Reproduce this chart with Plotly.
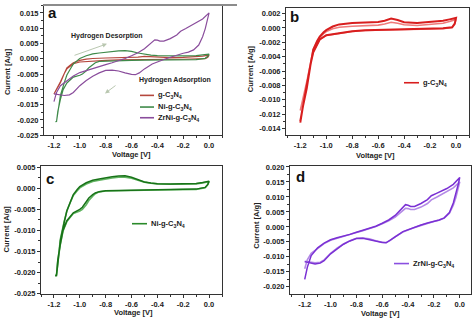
import plotly.graph_objects as go

# ---------------- data (current in mA/g, converted to A/g below) ----------------
# g-C3N4
gcn_v_fwd = [-1.2, -1.18, -1.15, -1.12, -1.1, -1.07, -1.05, -1.02, -1.0, -0.95, -0.9, -0.8,
             -0.7, -0.6, -0.55, -0.5, -0.45, -0.4, -0.3, -0.2, -0.1, -0.05, 0.0]
gcn_i_fwd_1 = [-13.0, -11.0, -8.0, -5.0, -3.0, -1.8, -1.2, -0.6, -0.3, 0.2, 0.5, 0.7,
               0.75, 0.85, 1.0, 1.3, 1.1, 0.8, 0.7, 0.8, 1.0, 1.2, 1.4]
gcn_i_fwd_2 = [-11.5, -10.0, -7.5, -4.8, -3.0, -1.9, -1.3, -0.8, -0.5, -0.1, 0.1, 0.25,
               0.3, 0.4, 0.55, 0.8, 0.65, 0.45, 0.35, 0.45, 0.65, 0.9, 1.2]
gcn_v_rev = [0.0, -0.01, -0.03, -0.1, -0.2, -0.3, -0.4, -0.5, -0.6, -0.7, -0.8, -0.9,
             -0.95, -1.0, -1.05, -1.1, -1.12, -1.15, -1.18, -1.2]
gcn_i_rev_1 = [1.4, 0.6, 0.1, -0.05, -0.1, -0.1, -0.1, -0.15, -0.2, -0.3, -0.45, -0.7,
               -0.85, -1.0, -1.6, -3.4, -5.0, -8.4, -11.0, -13.2]
gcn_i_rev_2 = [1.2, 0.5, 0.05, -0.1, -0.15, -0.15, -0.15, -0.2, -0.25, -0.35, -0.5, -0.75,
               -0.9, -1.05, -1.6, -3.3, -4.8, -7.8, -10.0, -11.5]

# Ni-g-C3N4
ni_v_fwd = [-1.18, -1.17, -1.15, -1.12, -1.1, -1.07, -1.05, -1.02, -1.0, -0.95, -0.9, -0.85,
            -0.8, -0.75, -0.7, -0.65, -0.6, -0.55, -0.5, -0.45, -0.4, -0.3, -0.2, -0.1, -0.05, 0.0]
ni_i_fwd_1 = [-20.7, -18.0, -12.4, -8.0, -5.4, -3.0, -1.5, -0.3, 0.4, 1.3, 1.9, 2.2,
              2.5, 2.75, 2.9, 2.95, 2.6, 2.0, 1.5, 1.25, 1.1, 1.0, 1.0, 1.15, 1.35, 1.7]
ni_i_fwd_2 = [-20.5, -17.5, -12.0, -7.8, -5.3, -3.1, -1.7, -0.6, 0.1, 1.0, 1.6, 1.9,
              2.2, 2.45, 2.6, 2.65, 2.4, 1.9, 1.45, 1.2, 1.05, 0.95, 0.95, 1.05, 1.25, 1.55]
ni_v_rev = [0.0, -0.01, -0.03, -0.1, -0.2, -0.3, -0.4, -0.5, -0.6, -0.7, -0.8, -0.85,
            -0.88, -0.9, -0.93, -0.95, -0.98, -1.0, -1.05, -1.1, -1.13, -1.15, -1.17, -1.18, -1.19]
ni_i_rev_1 = [1.7, 0.9, 0.2, -0.2, -0.3, -0.3, -0.35, -0.4, -0.45, -0.5, -0.6, -0.8,
              -1.1, -1.5, -2.3, -3.2, -4.5, -5.0, -5.8, -7.7, -10.0, -13.1, -17.0, -20.7, -20.8]
ni_i_rev_2 = [1.55, 0.8, 0.15, -0.25, -0.35, -0.35, -0.4, -0.45, -0.5, -0.55, -0.65, -0.85,
              -1.3, -1.9, -2.9, -3.9, -5.0, -5.4, -6.0, -7.9, -10.2, -13.3, -17.2, -20.5, -20.6]

# ZrNi-g-C3N4
zr_v_fwd = [-1.2, -1.18, -1.15, -1.1, -1.05, -1.0, -0.95, -0.9, -0.85, -0.8, -0.75, -0.7,
            -0.65, -0.6, -0.55, -0.5, -0.47, -0.44, -0.42, -0.4, -0.38, -0.35, -0.3, -0.25,
            -0.22, -0.18, -0.15, -0.1, -0.05, 0.0]
zr_i_fwd_1 = [-17.5, -13.5, -9.6, -7.0, -5.4, -4.3, -3.6, -3.1, -2.5, -1.8, -1.2, -0.6,
              0.2, 1.2, 2.3, 3.8, 5.2, 6.7, 7.4, 7.2, 6.8, 6.8, 7.8, 9.1,
              10.4, 11.2, 11.8, 12.8, 14.2, 16.5]
zr_i_fwd_2 = [-14.0, -11.0, -8.8, -7.2, -5.6, -4.5, -3.8, -3.2, -2.6, -1.9, -1.3, -0.7,
              0.1, 1.0, 2.0, 3.3, 4.5, 5.7, 6.2, 6.1, 5.8, 5.8, 6.6, 7.8,
              9.0, 9.9, 10.6, 11.7, 13.0, 15.0]
zr_v_rev = [0.0, -0.01, -0.03, -0.05, -0.08, -0.12, -0.16, -0.2, -0.25, -0.3, -0.36, -0.44,
            -0.5, -0.54, -0.57, -0.6, -0.65, -0.7, -0.75, -0.8, -0.85, -0.9, -0.95, -1.0,
            -1.05, -1.08, -1.12, -1.15, -1.18, -1.2]
zr_i_rev_1 = [16.5, 14.5, 11.0, 8.0, 4.8, 3.0, 2.3, 1.9, 1.3, 0.6, -0.3, -1.6,
              -3.3, -4.6, -5.3, -5.2, -4.7, -4.1, -3.8, -3.9, -4.7, -5.8, -7.3, -9.0,
              -11.3, -12.1, -12.4, -12.1, -11.7, -11.6]
zr_i_rev_2 = [15.0, 13.0, 9.8, 7.2, 4.5, 2.9, 2.2, 1.8, 1.2, 0.5, -0.4, -1.7,
              -3.3, -4.6, -5.2, -5.1, -4.6, -4.0, -3.7, -3.8, -4.6, -5.7, -7.1, -8.8,
              -11.0, -11.8, -12.0, -11.8, -11.6, -11.5]

x_ticks = [-1.2, -1.0, -0.8, -0.6, -0.4, -0.2, 0.0]
ya_ticks = [-0.025, -0.020, -0.015, -0.010, -0.005, 0.000, 0.005, 0.010, 0.015]
yb_ticks = [-0.014, -0.012, -0.010, -0.008, -0.006, -0.004, -0.002, 0.000, 0.002]
yc_ticks = [-0.025, -0.020, -0.015, -0.010, -0.005, 0.000, 0.005]
yd_ticks = [-0.020, -0.015, -0.010, -0.005, 0.000, 0.005, 0.010, 0.015, 0.020]

W, H = 474, 323
FONT = "Liberation Sans"


def loop(v_fwd, i_fwd, v_rev, i_rev):
    """One CV cycle: forward sweep followed by the reverse sweep, current in A/g."""
    v = list(v_fwd) + list(v_rev)
    i = [c / 1000.0 for c in list(i_fwd) + list(i_rev)]
    return v, i


def px(x):
    return x / W


def py(y):
    return 1 - y / H


fig = go.Figure()


def add_cycle(ax, cyc, color, width):
    v, i = loop(*cyc)
    fig.add_trace(go.Scatter(x=v, y=i, mode="lines", xaxis=f"x{ax}", yaxis=f"y{ax}",
                             line=dict(color=color, width=width, shape="linear"),
                             showlegend=False, hoverinfo="skip"))


gcn_c1 = (gcn_v_fwd, gcn_i_fwd_1, gcn_v_rev, gcn_i_rev_1)
gcn_c2 = (gcn_v_fwd, gcn_i_fwd_2, gcn_v_rev, gcn_i_rev_2)
ni_c1 = (ni_v_fwd, ni_i_fwd_1, ni_v_rev, ni_i_rev_1)
ni_c2 = (ni_v_fwd, ni_i_fwd_2, ni_v_rev, ni_i_rev_2)
zr_c1 = (zr_v_fwd, zr_i_fwd_1, zr_v_rev, zr_i_rev_1)
zr_c2 = (zr_v_fwd, zr_i_fwd_2, zr_v_rev, zr_i_rev_2)

# panel a: comparison
A_RED, A_GRN, A_PUR = "#b5473d", "#3f8a4a", "#8a4d9c"
add_cycle("", gcn_c2, A_RED, 1.2)
add_cycle("", ni_c2, A_GRN, 1.2)
add_cycle("", zr_c2, A_PUR, 1.2)
# panel b
add_cycle("2", gcn_c2, "#ef7a7a", 1.6)
add_cycle("2", gcn_c1, "#d81e1e", 2.0)
# panel c
add_cycle("3", ni_c2, "#62b562", 1.6)
add_cycle("3", ni_c1, "#187318", 1.5)
# panel d
add_cycle("4", zr_c2, "#b48ae6", 1.6)
add_cycle("4", zr_c1, "#7a30d4", 1.5)

tickfont = dict(family=FONT, size=7.5, color="#222", weight="bold")
axis_common = dict(showline=True, mirror=True, linecolor="#333", linewidth=1,
                   ticks="outside", ticklen=3, tickwidth=1, tickcolor="#333",
                   showgrid=False, zeroline=False, tickfont=tickfont)


def xaxis(domain, rng, anchor):
    return dict(axis_common, domain=domain, range=rng, anchor=anchor,
                tickmode="array", tickvals=x_ticks, ticktext=[f"{t:.1f}" for t in x_ticks],
                minor=dict(tickmode="linear", tick0=-1.3, dtick=0.1, ticklen=2,
                           tickcolor="#333", showgrid=False))


def yaxis(domain, rng, ticks, step, anchor):
    return dict(axis_common, domain=domain, range=rng, anchor=anchor,
                tickmode="array", tickvals=ticks, ticktext=[f"{t:.3f}" for t in ticks],
                minor=dict(tickmode="linear", tick0=ticks[0], dtick=step / 2, ticklen=2,
                           tickcolor="#333", showgrid=False))


top_dom = [py(135), py(1)]
top_dom_b = [py(135), py(4)]
bot_dom = [py(298), py(167)]

fig.update_layout(
    width=W, height=H, margin=dict(l=0, r=0, t=0, b=0),
    paper_bgcolor="white", plot_bgcolor="white", showlegend=False,
    xaxis=xaxis([px(44), px(222)], [-1.277, 0.1], "y"),
    yaxis=yaxis(top_dom, [-0.025, 0.0176], ya_ticks, 0.005, "x"),
    xaxis2=xaxis([px(286), px(469)], [-1.31, 0.1], "y2"),
    yaxis2=yaxis(top_dom_b, [-0.01495, 0.0028], yb_ticks, 0.002, "x2"),
    xaxis3=xaxis([px(41), px(222)], [-1.30, 0.1], "y3"),
    yaxis3=yaxis(bot_dom, [-0.025, 0.0052], yc_ticks, 0.005, "x3"),
    xaxis4=xaxis([px(290), px(471)], [-1.314, 0.087], "y4"),
    yaxis4=yaxis(bot_dom, [-0.0223, 0.0202], yd_ticks, 0.005, "x4"),
)

ann = []
shapes = []


def text(x, y, s, size=8, angle=0, xanchor="center", color="#222"):
    ann.append(dict(x=px(x), y=py(y), xref="paper", yref="paper", text=s, showarrow=False,
                    textangle=angle, xanchor=xanchor, yanchor="middle",
                    font=dict(family=FONT, size=size, color=color, weight="bold")))


# axis titles
for x, y in [(7, 70), (250, 67), (7, 232), (257, 228)]:
    text(x, y, "Current [A/g]", size=7.5, angle=-90)
for x, y in [(131, 155), (375, 156), (133, 317), (380, 318)]:
    text(x, y, "Voltage [V]", size=7.5)

# panel letters
for x, y, s in [(52, 9, "a"), (294, 13, "b"), (50, 179, "c"), (300, 177, "d")]:
    text(x, y, s, size=15, color="#111")

# manual legends
C3N4 = "C<sub>3</sub>N<sub>4</sub>"
legend_items = [
    (140, 154, 94, A_RED, "g-" + C3N4),
    (140, 154, 106, A_GRN, "Ni-g-" + C3N4),
    (140, 154, 117, A_PUR, "ZrNi-g-" + C3N4),
    (404, 419, 81, "#d81e1e", "g-" + C3N4),
    (132, 147, 226, "#2a8a2a", "Ni-g-" + C3N4),
    (394, 409, 267, "#8a4fe0", "ZrNi-g-" + C3N4),
]
for x0, x1, y, col, lab in legend_items:
    shapes.append(dict(type="line", xref="paper", yref="paper", x0=px(x0), x1=px(x1),
                       y0=py(y), y1=py(y), line=dict(color=col, width=1.6)))
    text(x1 + 2, y, lab, size=7.5, xanchor="left")

# hydrogen desorption / adsorption notes
text(107, 33, "Hydrogen Desorption", size=7)
text(175, 78, "Hydrogen Adsorption", size=7)
for hx, hy, tx, ty in [(107, 41, 73, 53), (105, 92, 117, 83)]:
    ann.append(dict(x=px(hx), y=py(hy), xref="paper", yref="paper", text="",
                    showarrow=True, ax=tx - hx, ay=ty - hy, arrowhead=2, arrowsize=0.9,
                    arrowwidth=1, arrowcolor="#b9c7b0"))

# grey strip along the top edge of panel a
shapes.append(dict(type="rect", xref="paper", yref="paper", x0=px(43), x1=px(237),
                   y0=py(2), y1=1, fillcolor="#8c8c8c", line=dict(width=0)))

fig.update_layout(annotations=ann, shapes=shapes)
fig.write_html("out.html")
